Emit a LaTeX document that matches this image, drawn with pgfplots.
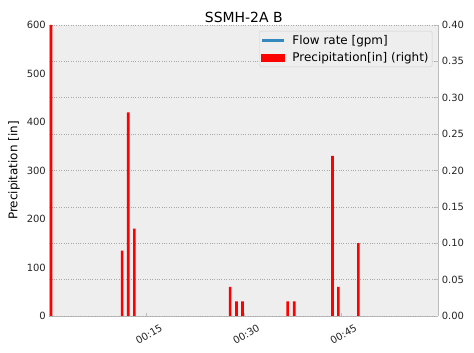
\documentclass[border=0pt]{standalone}
\usepackage{fontspec}
\setmainfont{DejaVu Sans}
\usepackage{pgfplots}
\pgfplotsset{compat=1.18}
\definecolor{bgc}{HTML}{EEEEEE}
\definecolor{spine}{HTML}{BCBCBC}
\definecolor{gridc}{HTML}{A8A8A8}
\definecolor{flowblue}{HTML}{348ABD}
\definecolor{txt}{HTML}{262626}
\pgfplotstableread{
x y
0.29 0.40
11.23 0.09
12.17 0.28
13.13 0.12
27.90 0.04
28.87 0.02
29.80 0.02
36.75 0.02
37.78 0.02
43.68 0.22
44.59 0.04
47.67 0.10
}\precip
\begin{document}
\begin{tikzpicture}
\pgfplotsset{
  common/.style={
    scale only axis, width=389bp, height=291bp,
    xmin=0, xmax=60,
    tick align=inside,
    major tick length=3bp,
    every tick/.style={draw=spine, line width=0.6pt},
    axis line style={draw=spine, line width=0.8pt},
    tick label style={font=\fontsize{10}{12}\selectfont, text=txt},
    label style={font=\fontsize{12}{14}\selectfont, text=black},
    /pgf/number format/assume math mode=true,
  }
}
\begin{axis}[common, name=ax,
  axis background/.style={fill=bgc},
  axis y line*=left, axis x line*=bottom,
  ymin=0, ymax=600,
  ytick={0,100,...,600},
  xtick={15,30,45}, xticklabels={00:15,00:30,00:45},
  xticklabel style={rotate=30, anchor=center, yshift=-17bp, xshift=-7bp},
  ylabel={Precipitation [in]},
  ylabel style={yshift=0bp},
  title={SSMH-2A B},
  title style={font=\fontsize{14}{16}\selectfont, yshift=-7bp},
]
\addplot[draw=none, forget plot] coordinates {(0,0) (60,0)};
\end{axis}
\begin{axis}[common,
  axis y line*=right, axis x line=none,
  ymin=0, ymax=0.40,
  ytick={0,0.05,...,0.41},
  yticklabel style={/pgf/number format/.cd, fixed, fixed zerofill, precision=2},
  ymajorgrids,
  major grid style={draw=gridc, dotted, line width=0.6pt},
  legend style={at={(1,1)}, anchor=north east, xshift=-6bp, yshift=-6bp,
    fill=bgc, draw=spine!70, rounded corners=2bp,
    font=\fontsize{12}{14}\selectfont,
    inner xsep=1bp, inner ysep=1.5bp, row sep=1.5bp,
    nodes={inner sep=2.5bp}},
  legend cell align=left,
  legend entries={Flow rate [gpm], Precipitation[in] (right)},
]
\addlegendimage{legend image code/.code={\fill[flowblue, sharp corners] (1bp,-0.9bp) rectangle (22bp,0.9bp); \path (29bp,0bp);}}
\addlegendimage{legend image code/.code={\fill[red, sharp corners] (0bp,-3.5bp) rectangle (23bp,3.5bp); \path (29bp,0bp);}}
\addplot[ybar, bar width=2.6bp, bar shift=0pt, fill=red, draw=none, forget plot] table[x=x, y=y] {\precip};
\end{axis}
\pgfresetboundingbox
\path[use as bounding box] ([xshift=-49.3bp,yshift=-37bp]ax.south west) rectangle ([xshift=35.7bp,yshift=25bp]ax.north east);
\end{tikzpicture}
\end{document}
